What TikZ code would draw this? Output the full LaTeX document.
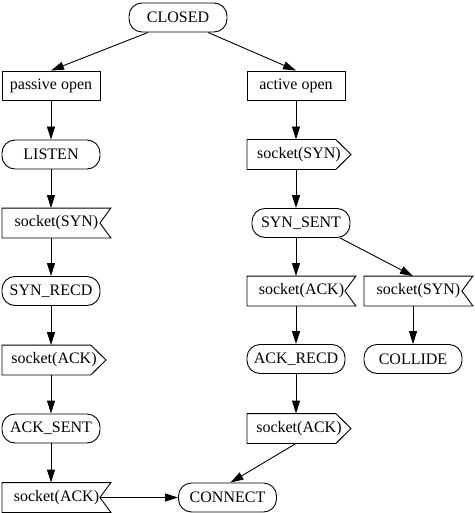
\documentclass[tikz,border=0pt]{standalone}
\usepackage{fontspec}
\setmainfont{Liberation Serif}
\usetikzlibrary{arrows.meta}
\begin{document}
\begin{tikzpicture}[x=1pt,y=-1pt,
  every node/.style={font=\fontsize{16}{18}\selectfont, inner sep=0pt, line width=0.9pt},
  state/.style={draw, rounded corners=13pt, minimum width=98pt, minimum height=29pt},
  actbox/.style={draw, minimum width=98pt, minimum height=29pt},
  sendsig/.style={minimum width=103pt, minimum height=29pt,
    append after command={\pgfextra{\draw[line width=0.9pt] (\tikzlastnode.north west) -- ([xshift=-15pt]\tikzlastnode.north east) -- (\tikzlastnode.east) -- ([xshift=-15pt]\tikzlastnode.south east) -- (\tikzlastnode.south west) -- cycle;}}},
  recvsig/.style={minimum width=108pt, minimum height=29pt,
    append after command={\pgfextra{\draw[line width=0.9pt] (\tikzlastnode.north west) -- (\tikzlastnode.north east) -- ([xshift=-11pt]\tikzlastnode.east) -- (\tikzlastnode.south east) -- (\tikzlastnode.south west) -- cycle;}}},
  arr/.style={line width=0.9pt, -{Triangle[length=13pt,width=8pt]}},
]
\useasboundingbox (0,0) rectangle (474,513);
% left column
\node[state] (closed) at (178,17.5) {CLOSED};
\node[actbox] (passive) at (51,85.5) {passive open};
\node[actbox] (active) at (296,85.5) {active open};
\node[state] (listen) at (51,154.5) {LISTEN};
\node[recvsig, anchor=west] (lsyn) at (2,223) {socket(SYN)};
\node[state] (synrecd) at (51,291) {SYN\_RECD};
\node[sendsig, anchor=west] (lack1) at (2,360) {socket(ACK)};
\node[state] (acksent) at (51,428.5) {ACK\_SENT};
\node[recvsig, anchor=west] (lack2) at (2,497.5) {socket(ACK)};
\node[state] (connect) at (227.5,497.5) {CONNECT};
% right column
\node[sendsig, anchor=west] (rsyn) at (247,154.5) {socket(SYN)};
\node[state] (synsent) at (301,223) {SYN\_SENT};
\node[recvsig, anchor=west] (rack1) at (247,291) {socket(ACK)};
\node[recvsig, anchor=west] (rrsyn) at (364,291) {socket(SYN)};
\node[state] (ackrecd) at (296,359) {ACK\_RECD};
\node[state] (collide) at (413,359) {COLLIDE};
\node[sendsig, anchor=west] (rack2) at (247,428.5) {socket(ACK)};
% edges
\draw[arr] ([xshift=-30pt]closed.south) -- (passive.north);
\draw[arr] ([xshift=30pt]closed.south) -- (active.north);
\draw[arr] (passive) -- (listen);
\draw[arr] (listen.south) -- (lsyn.north -| listen.south);
\draw[arr] (lsyn.south -| listen.south) -- (synrecd.north);
\draw[arr] (synrecd.south) -- (lack1.north -| synrecd.south);
\draw[arr] (lack1.south -| synrecd.south) -- (acksent.north);
\draw[arr] (acksent.south) -- (lack2.north -| acksent.south);
\draw[arr] ([xshift=-11pt]lack2.east) -- (connect.west);
\draw[arr] (active.south) -- (rsyn.north -| active.south);
\draw[arr] (rsyn.south -| active.south) -- (synsent.north -| active.south);
\draw[arr] (synsent.south -| active.south) -- (rack1.north -| active.south);
\draw[arr] ([xshift=39pt]synsent.south) -- (rrsyn.north -| collide.north);
\draw[arr] (rrsyn.south -| collide.north) -- (collide.north);
\draw[arr] (rack1.south -| active.south) -- (ackrecd.north);
\draw[arr] (ackrecd.south) -- (rack2.north -| ackrecd.south);
\draw[arr] (rack2.south -| active.south) -- ([xshift=3pt]connect.north);
\end{tikzpicture}
\end{document}
